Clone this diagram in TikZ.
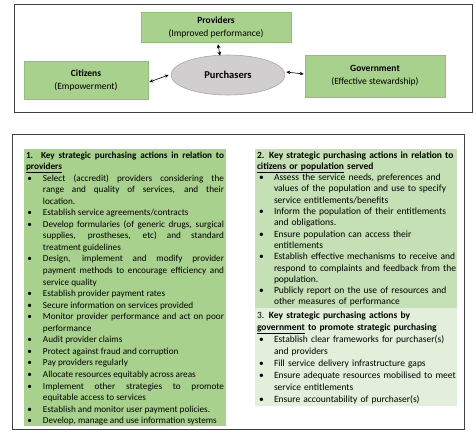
\documentclass[tikz,border=0pt]{standalone}
\usepackage{fontspec}
\setmainfont{Carlito}
\usetikzlibrary{arrows.meta,calc,shapes.geometric}
\definecolor{gdark}{HTML}{A9D18E}
\definecolor{gmid}{HTML}{C5E0B4}
\definecolor{glight}{HTML}{E2EFDA}
\definecolor{gedge}{HTML}{93BE77}
\definecolor{framecol}{HTML}{404040}
\definecolor{ellfill}{HTML}{D0CECE}
\definecolor{elledge}{HTML}{A6A6A6}
\newenvironment{blist}[1]{\begin{list}{\textbullet}{\setlength\leftmargin{17pt}\setlength\rightmargin{0pt}\setlength\labelsep{0pt}\setlength\labelwidth{17pt}\setlength\itemsep{0pt}\setlength\parsep{0pt}\setlength\topsep{0pt}\setlength\partopsep{0pt}\def\makelabel##1{\hspace{#1}##1\hfil}}}{\end{list}}
\tikzset{
  frameline/.style={draw=framecol, line width=1pt, anchor=north west, inner sep=0pt},
  topbox/.style={draw=gedge, fill=gdark, line width=0.5pt, align=center, inner sep=2pt, font=\fontsize{9.5}{13}\selectfont},
  purchbox/.style={ellipse, draw=elledge, fill=ellfill, line width=0.6pt, inner sep=0pt, font=\fontsize{10.5}{12}\selectfont\bfseries},
  bgbox/.style={anchor=north west, inner sep=0pt, outer sep=0pt},
  txtbox/.style={anchor=north west, inner sep=0pt, outer sep=0pt, text width=#1},
  biarrow/.style={{Stealth[length=4pt,width=3.6pt]}-{Stealth[length=4pt,width=3.6pt]}, line width=0.6pt, black}
}
\begin{document}
\begin{tikzpicture}[x=1pt,y=-1pt]
\useasboundingbox (0,0) rectangle (474,437);
% top panel
\node[frameline, minimum width=458pt, minimum height=108pt] (topframe) at (14,4) {};
\node[topbox, minimum width=150pt, minimum height=30pt] (prov) at (216,27) {\textbf{Providers}\\(Improved performance)};
\node[topbox, minimum width=124pt, minimum height=38pt] (cit) at (86,80) {\textbf{Citizens}\\(Empowerment)};
\node[topbox, minimum width=140pt, minimum height=42pt] (gov) at (375,76) {\textbf{Government}\\(Effective stewardship)};
\node[purchbox, minimum width=114pt, minimum height=40pt] (purch) at (228,75) {Purchasers};
\draw[biarrow] ($(prov.south)+(2,2)$) -- ($(purch.north)+(-8,1)$);
\draw[biarrow] ($(cit.east)+(1,2)$) -- ($(purch.west)+(-2,0)$);
\draw[biarrow] ($(purch.east)+(1,-3)$) -- ($(gov.west)+(-1,-2)$);
% bottom panel
\node[frameline, minimum width=452pt, minimum height=295pt] (botframe) at (12,134) {};
\node[bgbox, fill=gdark, minimum width=202pt, minimum height=277pt] (leftbg) at (24,149) {};
\node[bgbox, fill=gmid, minimum width=202pt, minimum height=159pt] (citbg) at (255,149) {};
\node[bgbox, fill=glight, minimum width=202pt, minimum height=98pt] (govbg) at (255,308) {};
\node[txtbox=198pt, align=justify, font=\fontsize{9.2}{11.55}\selectfont] (lefttxt) at (26,149) {\hyphenpenalty=10000\exhyphenpenalty=10000\parskip=0pt
\rule{0pt}{9pt}\textbf{1. Key strategic purchasing actions in relation to}\linebreak\textbf{\underline{providers}}
\begin{blist}{1.5pt}
\item Select (accredit) providers considering the\linebreak range and quality of services, and their\linebreak location.
\item Establish service agreements/contracts
\item Develop formularies (of generic drugs, surgical\linebreak supplies, prostheses, etc) and standard\linebreak treatment guidelines
\item Design, implement and modify provider\linebreak payment methods to encourage efficiency and\linebreak service quality
\item Establish provider payment rates
\item Secure information on services provided
\item Monitor provider performance and act on poor\linebreak performance
\item Audit provider claims
\item Protect against fraud and corruption
\item Pay providers regularly
\item Allocate resources equitably across areas
\item Implement other strategies to promote\linebreak equitable access to services
\item Establish and monitor user payment policies.
\item Develop, manage and use information systems
\end{blist}};
\node[txtbox=200pt, align=left, font=\fontsize{9.5}{11.3}\selectfont] (cittxt) at (257,149) {\hyphenpenalty=10000\parskip=0pt\raggedright
\rule{0pt}{9pt}\textbf{2. Key strategic purchasing actions in relation to}\newline\textbf{\underline{citizens or population} served}
\begin{blist}{2pt}
\item Assess the service needs, preferences and\newline values of the population and use to specify\newline service entitlements/benefits
\item Inform the population of their entitlements\newline and obligations.
\item Ensure population can access their\newline entitlements
\item Establish effective mechanisms to receive and\newline respond to complaints and feedback from the\newline population.
\item Publicly report on the use of resources and\newline other measures of performance
\end{blist}};
\node[txtbox=200pt, align=left, font=\fontsize{9.5}{12.1}\selectfont] (govtxt) at (257,308) {\hyphenpenalty=10000\parskip=0pt\raggedright
\rule{0pt}{10pt}3. \textbf{Key strategic purchasing actions by}\newline\textbf{\underline{government} to promote strategic purchasing}
\begin{blist}{2pt}
\item Establish clear frameworks for purchaser(s)\newline and providers
\item Fill service delivery infrastructure gaps
\item Ensure adequate resources mobilised to meet\newline service entitlements
\item Ensure accountability of purchaser(s)
\end{blist}};
\end{tikzpicture}
\end{document}
